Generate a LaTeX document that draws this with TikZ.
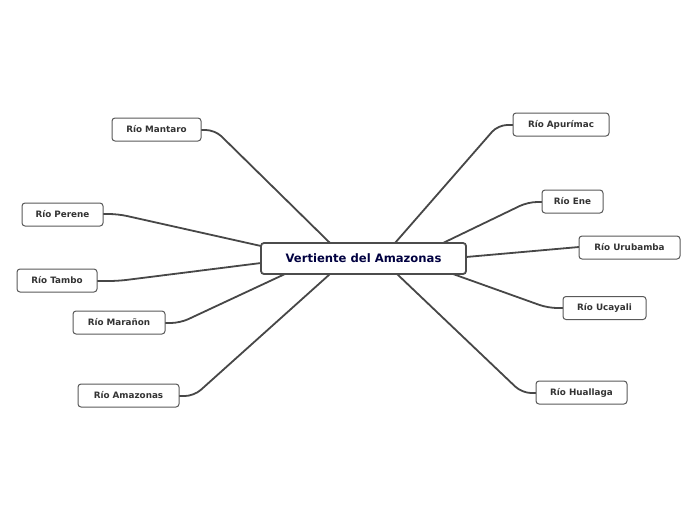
\documentclass[tikz,border=0pt]{standalone}
\usepackage{fontspec}
\setmainfont{DejaVu Sans}
\begin{document}
\begin{tikzpicture}[x=1pt,y=-1pt,
  leaf/.style={draw=black!65,line width=1pt,rounded corners=3pt,fill=white,inner sep=0pt,minimum height=23pt,font=\bfseries\fontsize{8.8}{10}\selectfont,text=black!80},
  hub/.style={draw=black!70,line width=1.8pt,rounded corners=3pt,fill=white,inner sep=0pt,minimum width=205pt,minimum height=31pt,font=\bfseries\fontsize{11.6}{13}\selectfont,text=blue!25!black},
  conn/.style={draw=black!72,line width=1.8pt,rounded corners=9pt}]
\useasboundingbox (0,0) rectangle (696,520);
\coordinate (s1) at (330,243); \coordinate (s2) at (261,246);
\coordinate (s3) at (261,263); \coordinate (s4) at (285,274);
\coordinate (s5) at (330,274); \coordinate (s6) at (395,243);
\coordinate (s7) at (443,243); \coordinate (s8) at (466,257);
\coordinate (s9) at (453,274); \coordinate (s10) at (397,274);
\draw[conn] (s1) -- (215,130) -- (201,130);
\draw[conn] (s2) -- (118,214) -- (103,214);
\draw[conn] (s3) -- (118,281) -- (97,281);
\draw[conn] (s4) -- (180,323) -- (165,323);
\draw[conn] (s5) -- (194,396) -- (179,396);
\draw[conn] (s6) -- (498,125) -- (513,125);
\draw[conn] (s7) -- (528,202) -- (542,202);
\draw[conn] (s8) -- (579,247);
\draw[conn] (s9) -- (548,308) -- (563,308);
\draw[conn] (s10) -- (522,393) -- (536,393);
\node[hub] (c) at (363.5,258.5) {Vertiente del Amazonas};
\node[leaf,minimum width=89pt] (a) at (156.5,129.5) {Río Mantaro};
\node[leaf,minimum width=81pt] (b) at (62.5,214.5) {Río Perene};
\node[leaf,minimum width=80pt] (d) at (57,280.5) {Río Tambo};
\node[leaf,minimum width=92pt] (e) at (119,322.5) {Río Marañon};
\node[leaf,minimum width=101pt] (f) at (128.5,395.5) {Río Amazonas};
\node[leaf,minimum width=96pt] (g) at (561,124.5) {Río Apurímac};
\node[leaf,minimum width=61pt] (h) at (572.5,201.5) {Río Ene};
\node[leaf,minimum width=101pt] (i) at (629.5,247.5) {Río Urubamba};
\node[leaf,minimum width=83pt] (j) at (604.5,308) {Río Ucayali};
\node[leaf,minimum width=91pt] (k) at (581.5,392.5) {Río Huallaga};
\end{tikzpicture}
\end{document}
